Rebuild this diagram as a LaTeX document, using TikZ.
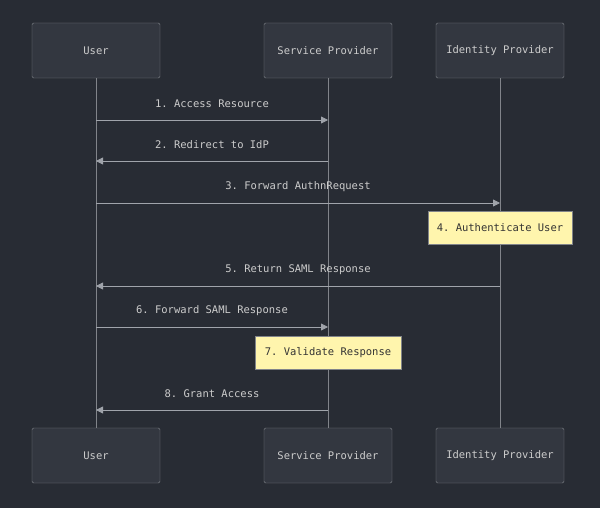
\documentclass[tikz,border=0pt]{standalone}
\usepackage{fontspec}
\setmonofont{DejaVu Sans Mono}
\usetikzlibrary{arrows.meta}
\definecolor{bg}{HTML}{282C34}
\definecolor{boxf}{HTML}{333740}
\definecolor{boxd}{HTML}{81848A}
\definecolor{txt}{HTML}{CCCCCC}
\definecolor{ln}{HTML}{A0A4AB}
\definecolor{notef}{HTML}{FFF5AD}
\definecolor{notet}{HTML}{333333}
\tikzset{
 actor/.style={draw=boxd,fill=boxf,rounded corners=1.5pt,minimum width=128pt,minimum height=55pt,text=txt,font=\ttfamily\fontsize{10.5}{12}\selectfont,inner sep=0pt},
 life/.style={draw=boxd,line width=0.8pt},
 msg/.style={draw=ln,line width=0.8pt,-{Triangle[length=7pt,width=7pt]}},
 lab/.style={text=txt,font=\ttfamily\fontsize{10.5}{12}\selectfont,anchor=center},
 note/.style={draw=boxd,fill=notef,minimum height=33pt,inner sep=0pt,line width=0.5pt},
 notetxt/.style={text=notet,font=\ttfamily\fontsize{10.5}{12}\selectfont}
}
\begin{document}
\begin{tikzpicture}[x=1pt,y=-1pt]
\fill[bg] (0,0) rectangle (600,508);
\useasboundingbox (0,0) rectangle (600,508);
\coordinate (u1) at (96,78); \coordinate (u2) at (96,428);
\coordinate (s1) at (328,78); \coordinate (s2) at (328,428);
\coordinate (i1) at (500,78); \coordinate (i2) at (500,428);
\draw[life] (u1)--(u2); \draw[life] (s1)--(s2); \draw[life] (i1)--(i2);
\node[actor] (ut) at (96,50.5) {User};
\node[actor] (st) at (328,50.5) {Service Provider};
\node[actor] (it) at (500,50.5) {Identity Provider};
\node[actor] (ub) at (96,455.5) {User};
\node[actor] (sb) at (328,455.5) {Service Provider};
\node[actor] (ib) at (500,455.5) {Identity Provider};
% messages
\coordinate (a1) at (96,120); \coordinate (b1) at (328,120);
\draw[msg] (a1)--(b1); \node[lab] (l1) at (212,104) {1. Access Resource};
\coordinate (a2) at (328,161); \coordinate (b2) at (96,161);
\draw[msg] (a2)--(b2); \node[lab] (l2) at (212,145) {2. Redirect to IdP};
\coordinate (a3) at (96,203); \coordinate (b3) at (500,203);
\draw[msg] (a3)--(b3); \node[lab] (l3) at (298,187) {3. Forward AuthnRequest};
\node[note,minimum width=144pt] (n4) at (500,227.5) {};
\node[notetxt] (t4) at (500,228) {4. Authenticate User};
\coordinate (a5) at (500,286); \coordinate (b5) at (96,286);
\draw[msg] (a5)--(b5); \node[lab] (l5) at (298,270) {5. Return SAML Response};
\coordinate (a6) at (96,327); \coordinate (b6) at (328,327);
\draw[msg] (a6)--(b6); \node[lab] (l6) at (212,311) {6. Forward SAML Response};
\node[note,minimum width=146pt] (n7) at (328,352.5) {};
\node[notetxt] (t7) at (328,353) {7. Validate Response};
\coordinate (a8) at (328,410); \coordinate (b8) at (96,410);
\draw[msg] (a8)--(b8); \node[lab] (l8) at (212,394) {8. Grant Access};
\end{tikzpicture}
\end{document}
